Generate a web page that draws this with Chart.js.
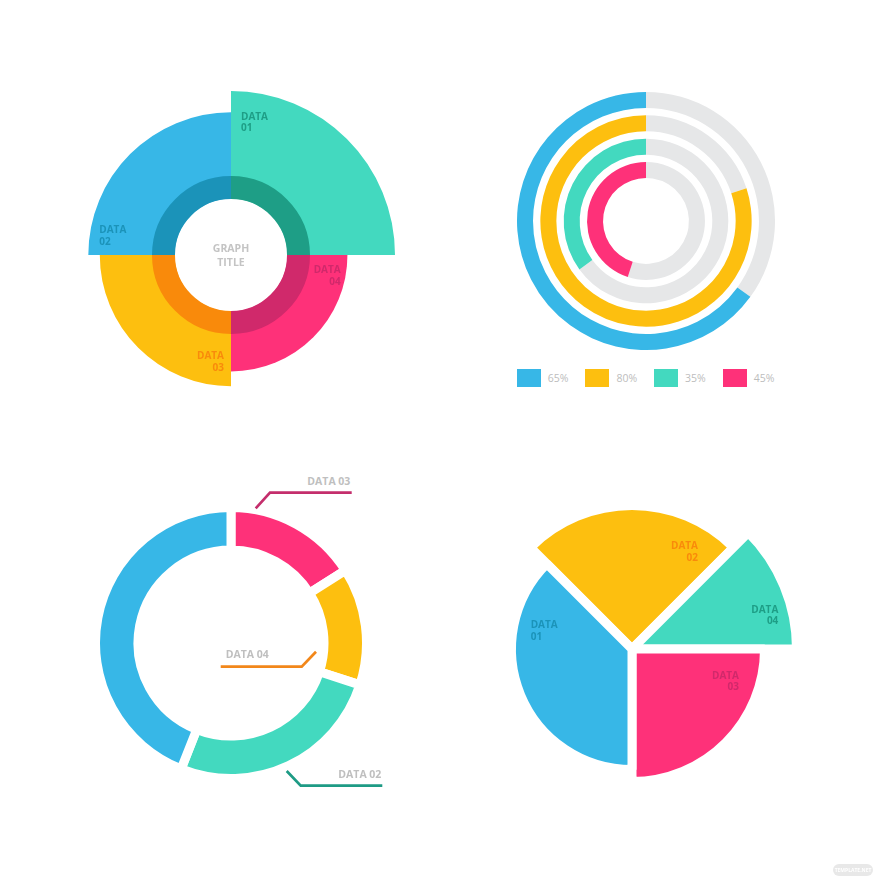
<!DOCTYPE html>
<html><head><meta charset="utf-8">
<script src="https://cdn.jsdelivr.net/npm/chart.js@4/dist/chart.umd.min.js"></script>
<style>
html,body{margin:0;padding:0;background:#fff;}
#stage{position:relative;width:880px;height:880px;overflow:hidden;background:#fff;font-family:"Open Sans",sans-serif;}
canvas.c{position:absolute;}
.lbl{position:absolute;white-space:nowrap;}
</style></head><body>
<div id="stage"></div>
<script>
// ---------------- DATA ----------------
// Chart 1 (radial quadrants), clockwise from 12 o'clock
const radialCategories = ['DATA 01', 'DATA 04', 'DATA 03', 'DATA 02'];
const radialValues = [100, 71, 80, 87];
const innerRingValues = [25, 25, 25, 25];

// Chart 2 (progress rings), outer to inner
const progressValues = [65, 80, 35, 45];
const progressLabels = ['65%', '80%', '35%', '45%'];

// Chart 3 (segmented ring), clockwise from 12 o'clock
const ringCategories = ['DATA 03', 'DATA 04', 'DATA 02', 'DATA 01'];
const ringValues = [16, 14, 26, 44];

// Chart 4 (exploded pie), clockwise from -45 degrees
const pieCategories = ['DATA 02', 'DATA 04', 'DATA 03', 'DATA 01'];
const pieShares = [25, 12.5, 25, 37.5];
const pieRadii = [139, 160, 128, 116];

// ---------------- STYLE ----------------
const C = {
  blue: '#37B7E7', teal: '#43D9BF', yellow: '#FDBF0F', pink: '#FE3179', gray: '#E6E7E8',
  blueD: '#1B93B9', tealD: '#1E9E86', orange: '#F98A0B', pinkD: '#D0296B',
  text: '#BFBFBF'
};
Chart.defaults.animation = false;
const stage = document.getElementById('stage');
const common = {
  responsive: false, animation: false, events: [],
  layout: { padding: 0 },
  plugins: { legend: { display: false }, tooltip: { enabled: false } }
};
function makeCanvas(left, top, w, h) {
  const c = document.createElement('canvas');
  c.className = 'c'; c.width = w; c.height = h;
  c.style.left = left + 'px'; c.style.top = top + 'px';
  c.style.width = w + 'px'; c.style.height = h + 'px';
  stage.appendChild(c);
  return c;
}
// Place text by its cap-top (Open Sans metrics)
function label(lines, x, capTop, opt) {
  const s = opt.size, lh = opt.lh || 13.3;
  const d = document.createElement('div');
  d.className = 'lbl';
  d.style.fontSize = s + 'px';
  d.style.lineHeight = lh + 'px';
  d.style.fontWeight = opt.weight || 700;
  d.style.color = opt.color;
  d.style.top = (capTop - (lh / 2 - 0.326 * s)) + 'px';
  if (opt.align === 'right') { d.style.right = (880 - x) + 'px'; d.style.textAlign = 'right'; }
  else if (opt.align === 'center') { d.style.left = (x - 100) + 'px'; d.style.width = '200px'; d.style.textAlign = 'center'; }
  else { d.style.left = x + 'px'; }
  lines.forEach((t, i) => { if (i) d.appendChild(document.createElement('br')); d.appendChild(document.createTextNode(t)); });
  stage.appendChild(d);
}
function splitCat(cat) { return cat.split(' '); }

// ---------------- CHART 1 ----------------
const radialColors = [C.teal, C.pink, C.yellow, C.blue];
const radialDark = [C.tealD, C.pinkD, C.orange, C.blueD];
new Chart(makeCanvas(67, 91, 328, 328), {
  type: 'polarArea',
  data: { labels: radialCategories, datasets: [{ data: radialValues, backgroundColor: radialColors, borderWidth: 0, hoverBorderWidth: 0 }] },
  options: Object.assign({}, common, { scales: { r: { display: false, min: 0, max: 100, startAngle: 0 } } })
});
// white centre of the dark inner ring, sized from the ring's own inner radius
const holeFill = {
  id: 'holeFill',
  beforeDatasetsDraw(chart) {
    const arc = chart.getDatasetMeta(0).data[0];
    if (!arc) return;
    const ctx = chart.ctx;
    ctx.save();
    ctx.fillStyle = '#fff';
    ctx.beginPath();
    ctx.arc(arc.x, arc.y, arc.innerRadius + 0.5, 0, Math.PI * 2);
    ctx.fill();
    ctx.restore();
  }
};
new Chart(makeCanvas(152, 176, 158, 158), {
  type: 'doughnut',
  data: { labels: radialCategories, datasets: [{ data: innerRingValues, backgroundColor: radialDark, borderWidth: 0, hoverBorderWidth: 0, hoverOffset: 0 }] },
  options: Object.assign({}, common, { cutout: '70.9%' }),
  plugins: [holeFill]
});
const c1Pos = { 'DATA 01': [241, 113.3, 'left', C.tealD], 'DATA 02': [99.3, 226.7, 'left', C.blueD],
                'DATA 03': [224, 352.7, 'right', C.orange], 'DATA 04': [340.7, 266.7, 'right', C.pinkD] };
radialCategories.forEach(cat => { const p = c1Pos[cat]; label(splitCat(cat), p[0], p[1], { size: 10, lh: 11.5, align: p[2], color: p[3] }); });
label(['GRAPH', 'TITLE'], 231, 245.7, { size: 10.5, lh: 13.3, align: 'center', color: '#C4C4C4' });

// ---------------- CHART 2 ----------------
const progressColors = [C.blue, C.yellow, C.teal, C.pink];
const progDatasets = [];
progressValues.forEach((v, i) => {
  if (i > 0) progDatasets.push({ data: [1], backgroundColor: ['rgba(0,0,0,0)'], borderWidth: 0, hoverBorderWidth: 0, hoverOffset: 0, weight: 7.33 });
  progDatasets.push({ data: [100 - v, v], backgroundColor: [C.gray, progressColors[i]], borderWidth: 0, hoverBorderWidth: 0, hoverOffset: 0, weight: 16 });
});
new Chart(makeCanvas(517, 92, 258, 258), {
  type: 'doughnut',
  data: { labels: ['rest', 'value'], datasets: progDatasets },
  options: Object.assign({}, common, { cutout: '33.3%' })
});
progressLabels.forEach((t, i) => {
  const x = 516.7 + i * 68.7;
  const b = document.createElement('div');
  b.style.cssText = 'position:absolute;left:' + x + 'px;top:369px;width:24px;height:18px;background:' + progressColors[i] + ';';
  stage.appendChild(b);
  label([t], x + 31, 375, { size: 10.5, lh: 13.3, weight: 400, color: '#BDBDBD' });
});

// ---------------- CHART 3 ----------------
const ringColors = [C.pink, C.yellow, C.teal, C.blue];
new Chart(makeCanvas(91, 503, 280, 280), {
  type: 'doughnut',
  data: { labels: ringCategories, datasets: [{ data: ringValues, backgroundColor: ringColors, borderColor: '#fff', borderWidth: 9, hoverBorderWidth: 9, hoverOffset: 0 }] },
  options: Object.assign({}, common, { cutout: '68.63%' })
});
const c3Pos = { 'DATA 03': [307.3, 478.3], 'DATA 04': [225.7, 651.7], 'DATA 02': [338.3, 771.7] };
ringCategories.forEach(cat => { if (c3Pos[cat]) label([cat], c3Pos[cat][0], c3Pos[cat][1], { size: 10.5, lh: 13.3, color: C.text }); });
const svgNS = 'http://www.w3.org/2000/svg';
const svg = document.createElementNS(svgNS, 'svg');
svg.setAttribute('width', 880); svg.setAttribute('height', 880);
svg.style.cssText = 'position:absolute;left:0;top:0;';
[['255.7,508.3 270,492.7 351.7,492.7', '#C42E6C'],
 ['220.7,666.7 301.7,666.7 316,651.7', '#F2871A'],
 ['286.7,771 300.7,785.7 382.3,785.7', '#1E9B85']].forEach(l => {
  const p = document.createElementNS(svgNS, 'polyline');
  p.setAttribute('points', l[0]); p.setAttribute('stroke', l[1]);
  p.setAttribute('stroke-width', '2.7'); p.setAttribute('fill', 'none');
  svg.appendChild(p);
});
stage.appendChild(svg);

// ---------------- CHART 4 ----------------
const pieColors = [C.yellow, C.teal, C.pink, C.blue];
const pieBorder = 9;
const varRadius = {
  id: 'varRadius',
  afterDatasetUpdate(chart, args) {
    const maxR = Math.max(...pieRadii);
    args.meta.data.forEach((arc, i) => {
      const full = arc.outerRadius - pieBorder / 2;
      arc.outerRadius = full * pieRadii[i] / maxR + pieBorder / 2;
    });
  }
};
new Chart(makeCanvas(463, 480, 338, 338), {
  type: 'pie',
  data: { labels: pieCategories, datasets: [{ data: pieShares, backgroundColor: pieColors, borderColor: '#fff', borderWidth: pieBorder, hoverBorderWidth: pieBorder, hoverOffset: 0 }] },
  options: Object.assign({}, common, { rotation: -45 }),
  plugins: [varRadius]
});
const c4Pos = { 'DATA 02': [698, 542.7, 'right', C.orange], 'DATA 04': [778.3, 606, 'right', C.tealD],
                'DATA 01': [530.7, 621.7, 'left', C.blueD], 'DATA 03': [739, 672.3, 'right', C.pinkD] };
pieCategories.forEach(cat => { const p = c4Pos[cat]; label(splitCat(cat), p[0], p[1], { size: 10, lh: 11.5, align: p[2], color: p[3] }); });

// watermark
const wm = document.createElement('div');
wm.style.cssText = 'position:absolute;left:833px;top:864px;width:40px;height:12px;border-radius:6px;background:#E8E8E8;color:#fff;font-size:5px;font-weight:700;line-height:12px;text-align:center;';
wm.textContent = 'TEMPLATE.NET';
stage.appendChild(wm);
</script>
</body></html>
